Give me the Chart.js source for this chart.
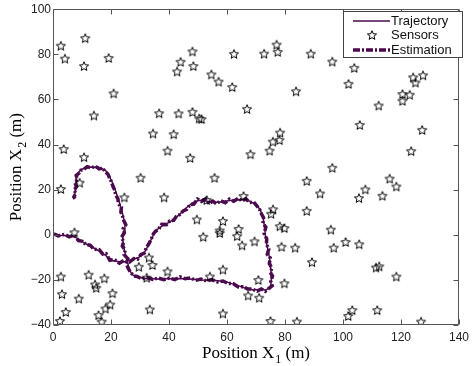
<!DOCTYPE html>
<html>
<head>
<meta charset="utf-8">
<script src="https://cdn.jsdelivr.net/npm/chart.js@4.4.1/dist/chart.umd.min.js"></script>
<style>
html,body{margin:0;padding:0;background:#fff;}
#wrap{width:474px;height:366px;position:relative;}
</style>
</head>
<body>
<div id="wrap"><canvas id="c" width="474" height="366"></canvas></div>
<script>
// ---- data ----
const xTicks = [0, 20, 40, 60, 80, 100, 120, 140];
const yTicks = [-40, -20, 0, 20, 40, 60, 80, 100];

const trajectory = [
[0,0],[2,-0.2],[4,-0.3],[7,-0.6],[9,-2],[11,-3.8],[13,-5.2],[16,-7.2],[18,-9],[19.5,-10.8],[21,-11.6],[23,-12],[25,-11.8],[27,-11.2],[29.5,-10.1],[31,-8.5],[32,-6.8],[33.5,-3],[35,1],[36.5,3],[38,4.2],[40,5.5],[42,7.2],[44,9.5],[46,12],[48,14],[50,15.2],[52,15.3],[54,14.5],[56,14.3],[58,14.6],[61,15.2],[64,15.6],[66,15.4],[68,14.8],[70,13.5],[71.5,11],[72.5,7],[73,3],[73.3,-1.5],[74,-6],[74.5,-9],[75,-13],[75.2,-17],[75.3,-20.5],[75,-23],[73.5,-24.5],[71,-24.3],[69,-24.5],[66,-23.5],[63,-22.2],[60,-21],[57,-20.4],[54,-20.2],[51,-20],[47,-19.6],[44,-19.4],[40,-19.5],[36,-19.6],[32,-19.4],[29,-18.8],[27.4,-17.8],[26.3,-15.5],[25.6,-11.5],[24.8,-8],[24.3,-4.5],[24,-1.4],[24.5,2],[24.8,4.5],[24.3,7.5],[23.8,10.3],[22.8,14.7],[21.7,19],[20.7,22.5],[19.6,25.5],[18.3,28.2],[16.5,29.7],[14.5,30],[12,29.8],[10.2,29.2],[9,28],[8.2,26],[8,23.5],[7.8,21],[7.6,18.5],[7.4,16.4]
];

const estimation = [
[0.3,0.4],[1.8,-0.5],[3.9,0.2],[5.6,-0.9],[7.2,-0.2],[8.8,-2.6],[10.2,-2.9],[11.4,-4.4],[12.8,-4.6],[14.1,-6.4],[15.9,-6.6],[17.2,-8.6],[18.3,-8.4],[19.6,-11.3],[21.2,-11.0],[22.9,-12.6],[24.6,-11.2],[26.4,-12.1],[27.9,-10.6],[29.2,-10.8],[30.3,-8.8],[31.5,-8.1],[32.1,-6.0],[33.0,-4.1],[33.8,-2.2],[34.6,0.4],[35.4,1.6],[36.4,2.4],[37.5,4.6],[39.1,4.5],[40.3,6.2],[41.6,6.4],[42.5,8.1],[43.8,9.0],[44.9,10.6],[46.1,11.3],[47.3,13.4],[48.6,13.6],[49.8,15.8],[51.2,14.8],[52.6,15.9],[53.8,13.8],[55.1,14.9],[56.4,13.7],[57.8,15.1],[59.4,14.2],[60.8,15.8],[62.3,14.9],[63.9,16.2],[65.2,15.0],[66.5,16.0],[67.8,14.3],[69.2,14.5],[70.3,12.8],[71.2,11.4],[71.9,9.2],[72.6,7.6],[72.4,5.1],[73.4,3.4],[72.8,0.6],[73.7,-1.8],[73.6,-4.1],[74.4,-6.4],[73.9,-8.7],[74.9,-10.2],[74.6,-12.8],[75.5,-14.9],[74.9,-16.6],[75.7,-18.3],[75.1,-20.8],[75.6,-22.6],[74.6,-23.6],[73.2,-25.1],[71.8,-24.0],[70.4,-25.0],[68.7,-24.1],[67.1,-24.0],[65.5,-23.0],[63.9,-23.1],[62.2,-21.7],[60.4,-21.6],[58.6,-20.5],[56.7,-20.9],[54.8,-19.9],[52.9,-20.5],[51.0,-19.6],[49.2,-20.2],[47.4,-19.1],[45.6,-19.5],[43.8,-18.7],[42.0,-19.9],[40.1,-19.2],[38.2,-19.9],[36.3,-19.2],[34.4,-19.8],[32.5,-19.0],[30.6,-19.5],[29.0,-18.5],[27.8,-18.2],[26.7,-16.6],[26.0,-15.0],[25.2,-12.8],[25.8,-10.6],[24.5,-8.8],[24.9,-6.9],[23.9,-5.0],[24.4,-3.1],[23.6,-1.2],[24.6,0.9],[24.2,2.8],[25.1,4.4],[24.4,6.3],[24.0,8.2],[23.4,10.1],[23.6,12.2],[22.5,13.8],[22.4,15.9],[21.6,17.7],[21.3,19.8],[20.7,21.4],[20.1,23.6],[19.6,25.0],[18.9,26.9],[18.0,28.0],[17.1,29.5],[15.9,29.2],[14.6,30.4],[13.2,29.6],[11.8,30.2],[10.6,29.0],[9.6,28.6],[8.9,27.2],[8.0,26.3],[8.4,24.6],[7.6,23.0],[8.1,21.4],[7.3,19.8],[7.9,18.3],[7.2,16.8],[7.6,16.0]
];

const sensors = [
[2.7,83.8],[11.1,87.2],[4.1,78.1],[10.7,74.8],[19.2,78.4],[20.9,62.7],[14.1,52.9],[3.7,38.0],[10.7,34.4],
[48.1,81.3],[44.0,76.7],[48.4,74.8],[42.8,72.4],[54.6,71.1],[57.1,67.9],[61.8,65.5],[62.4,80.2],[72.8,80.3],
[77.1,84.3],[77.5,81.1],[88.9,80.3],[96.3,76.8],[83.8,63.6],[66.9,55.8],[36.6,53.9],[43.3,53.8],[48.1,54.5],
[50.4,51.6],[51.2,51.3],[34.5,44.9],[41.6,44.6],[78.3,45.3],[75.8,41.3],[78.1,42.0],[74.7,37.3],[39.5,37.3],
[47.3,34.1],[68.1,35.7],[96.3,29.7],[103.9,74.0],[101.9,66.9],[127.6,70.7],[124.2,69.8],[125.0,67.5],
[120.5,62.4],[123.0,62.1],[120.5,59.4],[112.3,57.3],[105.8,48.7],[127.3,46.5],[123.5,37.1],[87.5,23.9],
[92.1,18.3],[87.5,10.6],[116.1,24.9],[118.4,21.4],[107.7,20.1],[105.5,16.3],[113.6,17.3],[78.2,3.8],
[79.8,3.0],[95.8,2.3],[78.8,-5.3],[83.5,-5.7],[96.8,-5.7],[100.9,-3.2],[105.6,-4.2],[89.3,-12.1],
[111.4,-14.5],[112.5,-14.0],[118.4,-18.5],[79.8,-21.5],[103.2,-33.4],[101.8,-36.0],[111.8,-33.4],
[84.1,-38.5],[126.9,-38.5],[2.7,20.3],[9.2,23.1],[30.2,25.3],[55.7,25.3],[24.6,16.6],[38.3,16.6],
[49.6,6.8],[51.8,-0.9],[7.4,1.1],[2.7,-18.5],[12.3,-17.7],[17.7,-19.3],[14.5,-22.0],[14.9,-23.5],
[33.1,-10.1],[29.6,-14.2],[34.3,-13.4],[39.5,-16.2],[32.3,-19.0],[54.1,-18.5],[53.0,15.4],[65.7,17.2],
[75.9,11.3],[75.2,9.3],[58.6,6.1],[57.5,1.9],[57.5,0.8],[64.0,2.6],[63.5,-0.6],[65.2,-4.7],[69.5,-2.9],
[58.6,-15.4],[70.8,-20.0],[67.3,-26.9],[71.1,-27.9],[3.1,-26.3],[8.9,-28.3],[20.5,-25.9],[19.7,-30.9],
[18.1,-32.7],[4.4,-34.2],[15.7,-35.6],[2.4,-38.2],[16.8,-38.5],[33.4,-33.1],[58.6,-34.9],[75.0,-38.2]
];

// ---- styling ----
const PURPLE = '#4b0a4e';
const toXY = arr => arr.map(p => ({x: p[0], y: p[1]}));

function makeStar(){
  const s = 12, c = document.createElement('canvas');
  c.width = s; c.height = s;
  const g = c.getContext('2d');
  const cx = s/2, cy = s/2 + 0.5, R = 4.8, r = 2.15;
  g.beginPath();
  for (let i = 0; i < 10; i++){
    const rad = (i % 2 === 0) ? R : r;
    const ang = -Math.PI/2 + i * Math.PI/5;
    const px = cx + rad*Math.cos(ang), py = cy + rad*Math.sin(ang);
    if (i === 0) g.moveTo(px, py); else g.lineTo(px, py);
  }
  g.closePath();
  g.strokeStyle = '#000'; g.lineWidth = 1;
  g.stroke();
  return c;
}
const starImg = makeStar();

const framePlugin = {
  id: 'frame',
  afterDraw(chart){
    const {ctx, chartArea: a, scales: {x, y}} = chart;
    ctx.save();
    ctx.strokeStyle = '#555'; ctx.lineWidth = 1;
    const L = Math.round(a.left)+0.5, R = Math.round(a.right)-0.5, T = Math.round(a.top)+0.5, B = Math.round(a.bottom)-0.5;
    ctx.beginPath();
    ctx.rect(L, T, R-L, B-T);
    xTicks.forEach(v => {
      const px = Math.round(x.getPixelForValue(v)) + 0.5;
      ctx.moveTo(px, B); ctx.lineTo(px, B-5);
      ctx.moveTo(px, T); ctx.lineTo(px, T+5);
    });
    yTicks.forEach(v => {
      const py = Math.round(y.getPixelForValue(v)) + 0.5;
      ctx.moveTo(L, py); ctx.lineTo(L+5, py);
      ctx.moveTo(R, py); ctx.lineTo(R-5, py);
    });
    ctx.stroke();

    // axis titles (serif with subscript)
    function subTitle(cx, cy, sub){
      const big = '17px "Liberation Serif", "Times New Roman", serif';
      const small = '12px "Liberation Serif", "Times New Roman", serif';
      ctx.font = big; const w1 = ctx.measureText('Position X').width;
      const w3 = ctx.measureText(' (m)').width;
      ctx.font = small; const w2 = ctx.measureText(sub).width + 1;
      const tot = w1 + w2 + w3;
      let sx = cx - tot/2;
      ctx.fillStyle = '#000'; ctx.textBaseline = 'alphabetic'; ctx.textAlign = 'left';
      ctx.font = big; ctx.fillText('Position X', sx, cy + 6);
      ctx.font = small; ctx.fillText(sub, sx + w1 + 1, cy + 11);
      ctx.font = big; ctx.fillText(' (m)', sx + w1 + w2, cy + 6);
    }
    subTitle((a.left + a.right)/2, 352, '1');
    ctx.save();
    ctx.translate(15, (a.top + a.bottom)/2);
    ctx.rotate(-Math.PI/2);
    subTitle(0, 0, '2');
    ctx.restore();

    // legend box inside the plot
    const bx = 343.5, by = 11.5, bw = 119, bh = 46;
    ctx.fillStyle = '#fff';
    ctx.fillRect(bx, by, bw, bh);
    ctx.strokeStyle = '#444'; ctx.lineWidth = 1;
    ctx.strokeRect(bx, by, bw, bh);
    const ds = chart.data.datasets;
    const rows = [21, 35, 50];
    ctx.font = '13px "Liberation Sans", Arial, sans-serif';
    ctx.textBaseline = 'middle'; ctx.textAlign = 'left'; ctx.fillStyle = '#000';
    ds.forEach((d, i) => {
      const ry = rows[i];
      if (d.label === 'Sensors'){
        ctx.drawImage(starImg, 372 - starImg.width/2, ry - starImg.height/2);
      } else {
        ctx.save();
        ctx.strokeStyle = PURPLE;
        ctx.lineWidth = d.borderWidth;
        ctx.setLineDash(d.borderDash || []);
        ctx.beginPath(); ctx.moveTo(353, ry); ctx.lineTo(390, ry); ctx.stroke();
        ctx.restore();
      }
      ctx.fillStyle = '#111';
      ctx.fillText(d.label, 391, ry + 0.5);
    });
    ctx.restore();
  }
};

const minus = v => String(v).replace('-', '\u2212');

new Chart(document.getElementById('c'), {
  type: 'scatter',
  data: {
    datasets: [
      {label: 'Trajectory', data: toXY(trajectory), showLine: true, borderColor: PURPLE, borderWidth: 1.5,
       pointRadius: 0, fill: false, tension: 0, order: 3},
      {label: 'Sensors', data: toXY(sensors), showLine: false, pointStyle: starImg, pointRadius: 5,
       borderColor: '#000', backgroundColor: '#000', order: 1},
      {label: 'Estimation', data: toXY(estimation), showLine: true, borderColor: PURPLE, borderWidth: 3.5,
       borderDash: [7, 2, 2, 2], pointRadius: 0, fill: false, tension: 0, order: 2}
    ]
  },
  options: {
    responsive: false,
    animation: false,
    devicePixelRatio: 1,
    layout: {padding: {top: 5, right: 10, left: 0, bottom: 0}},
    plugins: {legend: {display: false}, tooltip: {enabled: false}},
    scales: {
      x: {
        type: 'linear', min: 0, max: 140,
        afterBuildTicks: s => { s.ticks = xTicks.map(v => ({value: v})); },
        afterFit: s => { s.height = 41; },
        grid: {display: false, drawTicks: false},
        border: {display: false},
        ticks: {padding: 5, color: '#222', font: {family: '"Liberation Sans", Arial, sans-serif', size: 12},
                callback: v => minus(v), maxRotation: 0}
      },
      y: {
        type: 'linear', min: -40, max: 100,
        afterBuildTicks: s => { s.ticks = yTicks.map(v => ({value: v})); },
        afterFit: s => { s.width = 53; },
        grid: {display: false, drawTicks: false},
        border: {display: false},
        ticks: {padding: 2, color: '#222', font: {family: '"Liberation Sans", Arial, sans-serif', size: 12},
                callback: v => minus(v)}
      }
    }
  },
  plugins: [framePlugin]
});
</script>
</body>
</html>
